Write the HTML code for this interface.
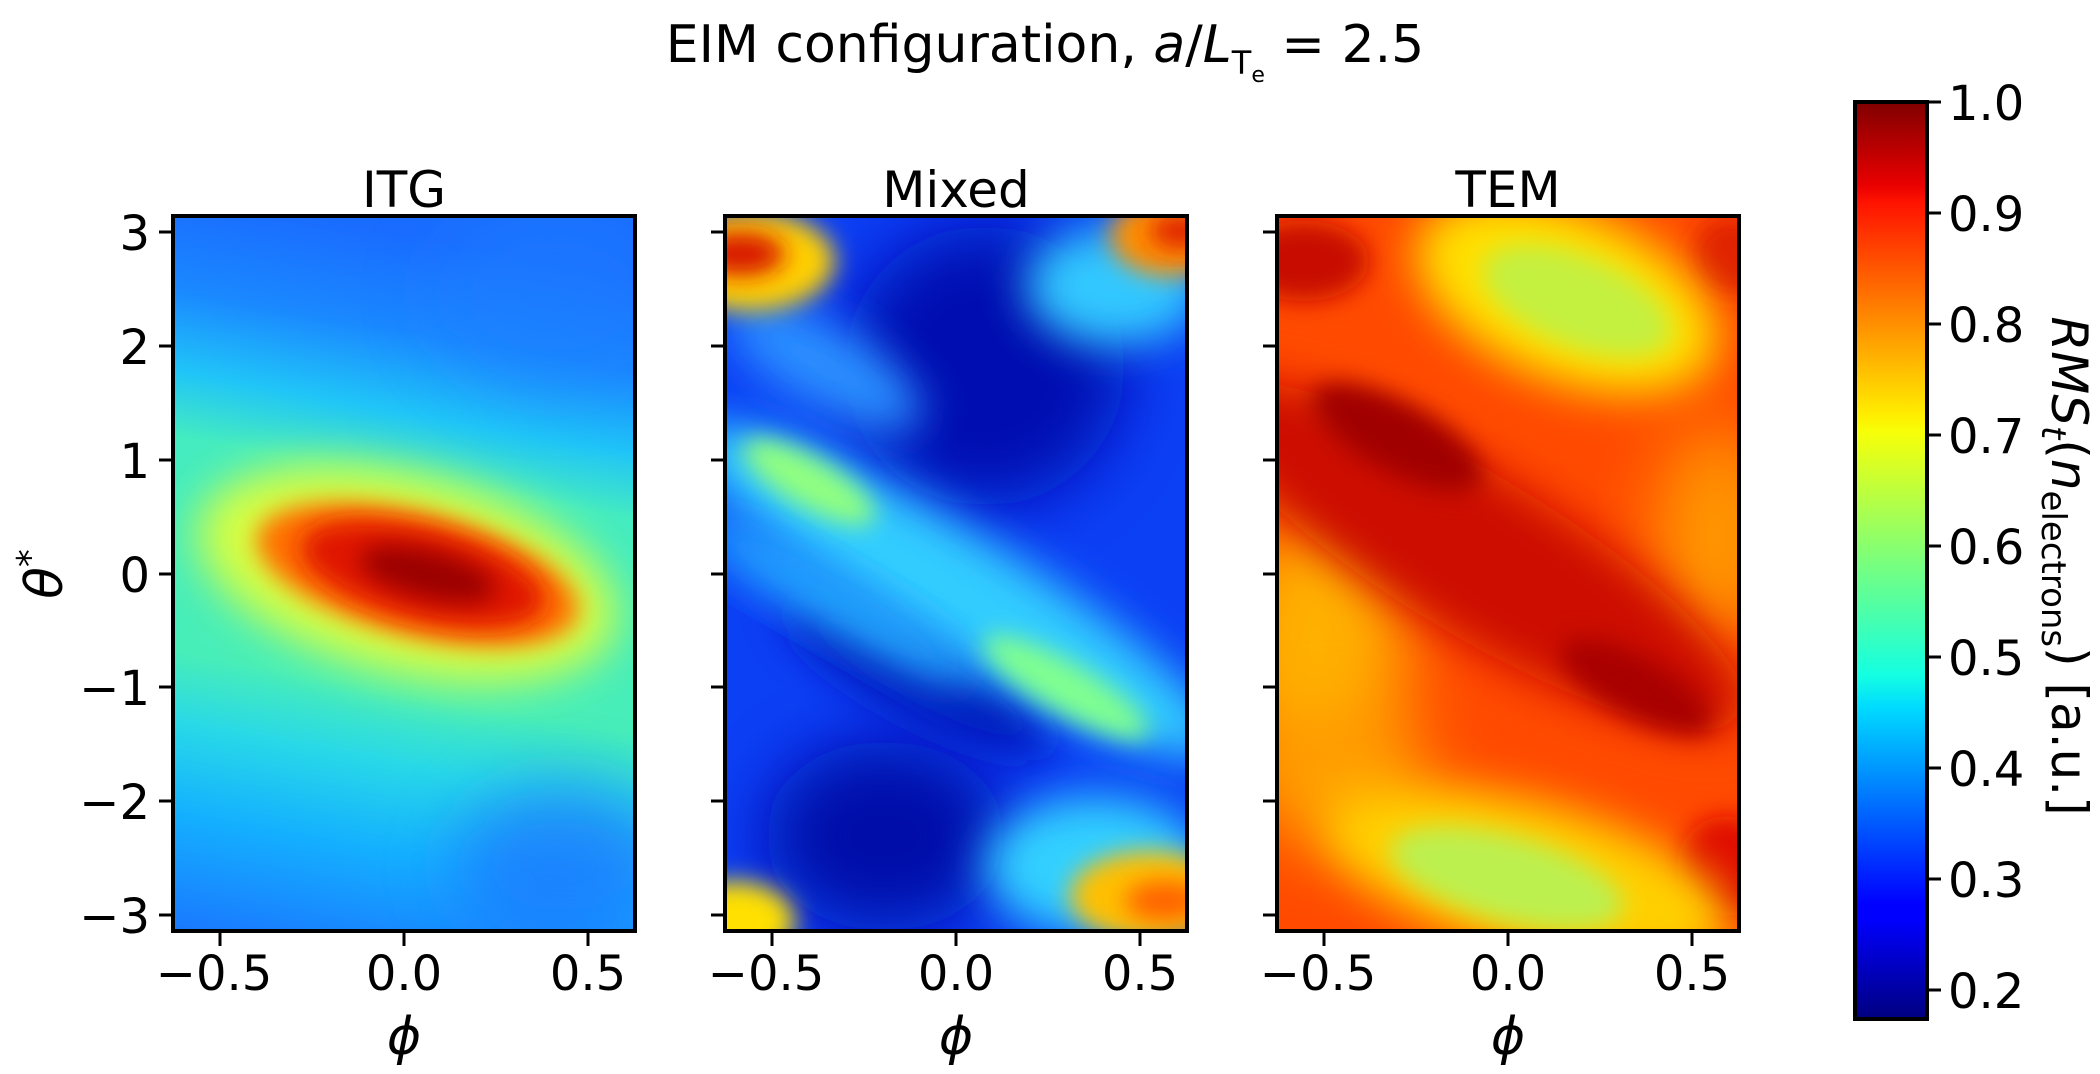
<!DOCTYPE html>
<html><head><meta charset="utf-8"><style>
html,body{margin:0;padding:0;background:#fff;}
svg{display:block;font-family:"DejaVu Sans","Liberation Sans",sans-serif;}
</style></head><body>
<svg width="2100" height="1074" viewBox="0 0 2100 1074" xmlns="http://www.w3.org/2000/svg">
<defs>
<filter id="b1" x="-50%" y="-50%" width="200%" height="200%"><feGaussianBlur stdDeviation="22"/></filter>
<filter id="b2" x="-50%" y="-50%" width="200%" height="200%"><feGaussianBlur stdDeviation="12"/></filter>
<filter id="b3" x="-50%" y="-50%" width="200%" height="200%"><feGaussianBlur stdDeviation="35"/></filter>
<clipPath id="cp"><rect x="0" y="0" width="462" height="715"/></clipPath>
<linearGradient id="gItg" gradientUnits="userSpaceOnUse" x1="130" y1="0" x2="0" y2="715">
<stop offset="0" stop-color="#1a6cff"/><stop offset="0.13" stop-color="#1a88ff"/>
<stop offset="0.24" stop-color="#20c4f8"/><stop offset="0.33" stop-color="#44ecc0"/>
<stop offset="0.62" stop-color="#48eeb8"/><stop offset="0.72" stop-color="#28d8e8"/>
<stop offset="0.84" stop-color="#14b0ff"/><stop offset="1" stop-color="#1a78ff"/>
</linearGradient>
<linearGradient id="cbar" x1="0" y1="1" x2="0" y2="0">
<stop offset="0" stop-color="#000080"/><stop offset="0.11" stop-color="#0000ff"/>
<stop offset="0.125" stop-color="#0000ff"/><stop offset="0.34" stop-color="#00dbff"/>
<stop offset="0.375" stop-color="#14ffe2"/><stop offset="0.5" stop-color="#7bff7b"/>
<stop offset="0.64" stop-color="#f7ff08"/><stop offset="0.66" stop-color="#ffec00"/>
<stop offset="0.89" stop-color="#ff1300"/><stop offset="0.91" stop-color="#e80000"/>
<stop offset="1" stop-color="#800000"/>
</linearGradient>
</defs>

<text x="1045" y="62" font-size="52" text-anchor="middle">EIM configuration, <tspan font-style="italic">a</tspan>/<tspan font-style="italic">L</tspan><tspan font-size="32" dy="12">T</tspan><tspan font-size="22" dy="8">e</tspan><tspan dy="-20"> = 2.5</tspan></text>

<!-- Panel 1 ITG -->
<g transform="translate(173,216)">
<g clip-path="url(#cp)">
<rect x="0" y="0" width="462" height="715" fill="url(#gItg)"/>
<ellipse cx="390" cy="650" rx="110" ry="80" fill="#1a70ff" filter="url(#b3)" opacity="0.7"/>
<ellipse cx="380" cy="80" rx="120" ry="90" fill="#1a80ff" filter="url(#b3)" opacity="0.5"/>
<g transform="rotate(14 250 357)">
<ellipse cx="235" cy="362" rx="215" ry="100" fill="#d8ff40" filter="url(#b1)"/>
<ellipse cx="245" cy="360" rx="165" ry="62" fill="#ff7000" filter="url(#b2)"/>
<ellipse cx="250" cy="358" rx="125" ry="46" fill="#e01400" filter="url(#b2)"/>
<ellipse cx="255" cy="357" rx="70" ry="24" fill="#9a0000" filter="url(#b2)"/>
</g>
</g>
<rect x="0" y="0" width="462" height="715" fill="none" stroke="#000" stroke-width="4"/>
</g>

<!-- Panel 2 Mixed -->
<g transform="translate(725,216)">
<g clip-path="url(#cp)">
<rect x="0" y="0" width="462" height="715" fill="#0c40f5"/>
<ellipse cx="260" cy="150" rx="140" ry="140" fill="#0010b0" filter="url(#b3)"/>
<ellipse cx="160" cy="620" rx="120" ry="95" fill="#000aa8" filter="url(#b3)"/>
<ellipse cx="195" cy="460" rx="150" ry="40" transform="rotate(28 195 460)" fill="#0012b8" filter="url(#b1)"/>
<ellipse cx="100" cy="150" rx="110" ry="40" transform="rotate(30 100 150)" fill="#2a90ff" filter="url(#b1)"/>
<ellipse cx="230" cy="375" rx="310" ry="60" transform="rotate(31 230 375)" fill="#30ccff" filter="url(#b1)"/>
<ellipse cx="110" cy="385" rx="160" ry="28" transform="rotate(30 110 385)" fill="#20a8ff" filter="url(#b1)"/>
<ellipse cx="84" cy="266" rx="75" ry="25" transform="rotate(30 84 266)" fill="#90ff80" filter="url(#b2)"/>
<ellipse cx="341" cy="471" rx="95" ry="25" transform="rotate(30 341 471)" fill="#80ff90" filter="url(#b2)"/>
<ellipse cx="390" cy="70" rx="90" ry="60" fill="#30c8ff" filter="url(#b1)"/>
<ellipse cx="370" cy="650" rx="110" ry="70" fill="#30d0ff" filter="url(#b1)"/>
<ellipse cx="25" cy="45" rx="85" ry="50" fill="#ffd000" filter="url(#b2)"/>
<ellipse cx="15" cy="38" rx="45" ry="22" fill="#d81800" filter="url(#b2)"/>
<ellipse cx="445" cy="20" rx="60" ry="40" fill="#ff9000" filter="url(#b2)"/>
<ellipse cx="455" cy="15" rx="30" ry="18" fill="#e02000" filter="url(#b2)"/>
<ellipse cx="10" cy="705" rx="60" ry="40" fill="#ffe000" filter="url(#b2)"/>
<ellipse cx="425" cy="680" rx="80" ry="45" fill="#ffc000" filter="url(#b2)"/>
<ellipse cx="440" cy="685" rx="40" ry="20" fill="#ff6000" filter="url(#b2)"/>
</g>
<rect x="0" y="0" width="462" height="715" fill="none" stroke="#000" stroke-width="4"/>
</g>

<!-- Panel 3 TEM -->
<g transform="translate(1277,216)">
<g clip-path="url(#cp)">
<rect x="0" y="0" width="462" height="715" fill="#ff4a00"/>
<ellipse cx="40" cy="430" rx="90" ry="130" fill="#ffb000" filter="url(#b3)"/>
<ellipse cx="440" cy="320" rx="60" ry="110" fill="#ff9a00" filter="url(#b3)"/>
<ellipse cx="60" cy="560" rx="90" ry="70" fill="#ffa000" filter="url(#b3)"/>
<ellipse cx="200" cy="340" rx="310" ry="80" transform="rotate(31 200 340)" fill="#cc0800" filter="url(#b1)"/>
<ellipse cx="120" cy="221" rx="95" ry="35" transform="rotate(28 120 221)" fill="#a00000" filter="url(#b2)"/>
<ellipse cx="360" cy="471" rx="85" ry="30" transform="rotate(28 360 471)" fill="#a80000" filter="url(#b2)"/>
<ellipse cx="27" cy="45" rx="65" ry="40" fill="#c81000" filter="url(#b2)"/>
<ellipse cx="455" cy="40" rx="40" ry="40" fill="#e02000" filter="url(#b2)"/>
<ellipse cx="450" cy="650" rx="50" ry="50" fill="#e01000" filter="url(#b2)"/>
<ellipse cx="290" cy="80" rx="160" ry="85" transform="rotate(22 290 80)" fill="#ffe000" filter="url(#b1)"/>
<ellipse cx="300" cy="85" rx="100" ry="45" transform="rotate(22 300 85)" fill="#c4f040" filter="url(#b2)"/>
<ellipse cx="250" cy="660" rx="210" ry="75" transform="rotate(15 250 660)" fill="#ffd000" filter="url(#b1)"/>
<ellipse cx="230" cy="662" rx="120" ry="42" transform="rotate(15 230 662)" fill="#bcf050" filter="url(#b2)"/>
</g>
<rect x="0" y="0" width="462" height="715" fill="none" stroke="#000" stroke-width="4"/>
</g>

<g stroke="#000" stroke-width="3">
<line x1="159" y1="232" x2="173" y2="232"/><line x1="159" y1="346" x2="173" y2="346"/>
<line x1="159" y1="460" x2="173" y2="460"/><line x1="159" y1="574" x2="173" y2="574"/>
<line x1="159" y1="687" x2="173" y2="687"/><line x1="159" y1="801" x2="173" y2="801"/>
<line x1="159" y1="915" x2="173" y2="915"/>
<line x1="711" y1="232" x2="725" y2="232"/><line x1="711" y1="346" x2="725" y2="346"/>
<line x1="711" y1="460" x2="725" y2="460"/><line x1="711" y1="574" x2="725" y2="574"/>
<line x1="711" y1="687" x2="725" y2="687"/><line x1="711" y1="801" x2="725" y2="801"/>
<line x1="711" y1="915" x2="725" y2="915"/>
<line x1="1263" y1="232" x2="1277" y2="232"/><line x1="1263" y1="346" x2="1277" y2="346"/>
<line x1="1263" y1="460" x2="1277" y2="460"/><line x1="1263" y1="574" x2="1277" y2="574"/>
<line x1="1263" y1="687" x2="1277" y2="687"/><line x1="1263" y1="801" x2="1277" y2="801"/>
<line x1="1263" y1="915" x2="1277" y2="915"/>
<line x1="220" y1="931" x2="220" y2="946"/><line x1="404" y1="931" x2="404" y2="946"/><line x1="588" y1="931" x2="588" y2="946"/>
<line x1="772" y1="931" x2="772" y2="946"/><line x1="956" y1="931" x2="956" y2="946"/><line x1="1140" y1="931" x2="1140" y2="946"/>
<line x1="1324" y1="931" x2="1324" y2="946"/><line x1="1508" y1="931" x2="1508" y2="946"/><line x1="1692" y1="931" x2="1692" y2="946"/>
</g>
<g font-size="48" text-anchor="end">
<text x="150" y="250">3</text><text x="150" y="364">2</text><text x="150" y="478">1</text>
<text x="150" y="592">0</text><text x="150" y="705">−1</text><text x="150" y="819">−2</text>
<text x="150" y="933">−3</text>
</g>
<g font-size="48" text-anchor="middle">
<text x="214" y="990">−0.5</text><text x="404" y="990">0.0</text><text x="588" y="990">0.5</text>
<text x="766" y="990">−0.5</text><text x="956" y="990">0.0</text><text x="1140" y="990">0.5</text>
<text x="1318" y="990">−0.5</text><text x="1508" y="990">0.0</text><text x="1692" y="990">0.5</text>
<text x="404" y="1054" font-style="italic" font-size="52">ϕ</text>
<text x="956" y="1054" font-style="italic" font-size="52">ϕ</text>
<text x="1508" y="1054" font-style="italic" font-size="52">ϕ</text>
<text x="404" y="207" font-size="50">ITG</text><text x="956" y="207" font-size="50">Mixed</text><text x="1508" y="207" font-size="50">TEM</text>
</g>
<text transform="translate(62,574) rotate(-90)" font-size="52" text-anchor="middle" font-style="italic">θ<tspan font-style="normal" font-size="36" dy="-20">*</tspan></text>

<rect x="1855" y="102" width="72" height="917" fill="url(#cbar)" stroke="#000" stroke-width="4"/>
<g stroke="#000" stroke-width="3">
<line x1="1927" y1="102" x2="1941" y2="102"/><line x1="1927" y1="213" x2="1941" y2="213"/>
<line x1="1927" y1="324" x2="1941" y2="324"/><line x1="1927" y1="435" x2="1941" y2="435"/>
<line x1="1927" y1="546" x2="1941" y2="546"/><line x1="1927" y1="657" x2="1941" y2="657"/>
<line x1="1927" y1="768" x2="1941" y2="768"/><line x1="1927" y1="879" x2="1941" y2="879"/>
<line x1="1927" y1="990" x2="1941" y2="990"/>
</g>
<g font-size="48">
<text x="1948" y="120">1.0</text><text x="1948" y="231">0.9</text><text x="1948" y="342">0.8</text>
<text x="1948" y="453">0.7</text><text x="1948" y="564">0.6</text><text x="1948" y="675">0.5</text>
<text x="1948" y="786">0.4</text><text x="1948" y="897">0.3</text><text x="1948" y="1008">0.2</text>
</g>
<text transform="translate(2052,566) rotate(90)" font-size="50" text-anchor="middle"><tspan font-style="italic">RMS</tspan><tspan font-style="italic" font-size="34" dy="10">t</tspan><tspan dy="-10">(</tspan><tspan font-style="italic">n</tspan><tspan font-size="34" dy="10">electrons</tspan><tspan dy="-10">) [a.u.]</tspan></text>
</svg>
</body></html>
